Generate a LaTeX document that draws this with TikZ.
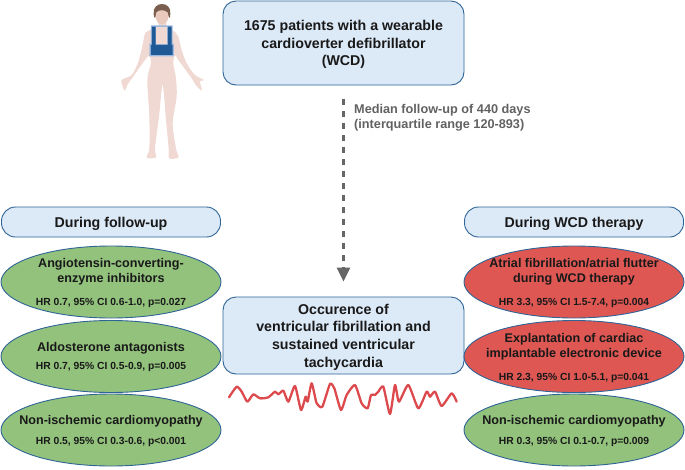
\documentclass[tikz,border=0pt]{standalone}
\usepackage{fontspec}
\setmainfont{Liberation Sans}
\usetikzlibrary{shapes.geometric,arrows.meta}
\definecolor{boxblue}{HTML}{DCE9F7}
\definecolor{edgeblue}{HTML}{2F6496}
\definecolor{okgreen}{HTML}{92C27C}
\definecolor{riskred}{HTML}{DE5753}
\definecolor{waved}{HTML}{DC4A4E}
\definecolor{skin}{HTML}{F0D9D2}
\definecolor{face}{HTML}{E8C9BC}
\definecolor{hair}{HTML}{7A5F4E}
\definecolor{vest}{HTML}{1F5A96}
\definecolor{vestedge}{HTML}{9DB8DE}
\begin{document}
\begin{tikzpicture}[
    x=1pt, y=-1pt,
    box/.style={draw=edgeblue, fill=boxblue, line width=0.9pt, rounded corners=13pt, align=center, text depth=0pt,
        font=\fontsize{14.2}{17.6}\selectfont\bfseries, text=black!90},
    head/.style={box, rounded corners=14pt, minimum width=219pt, minimum height=30pt, inner sep=0pt},
    oval/.style={ellipse, draw=edgeblue, line width=0.9pt, minimum width=220pt, minimum height=72pt, inner sep=0pt},
    title/.style={align=center, inner sep=0pt, text=black!90, font=\fontsize{12.6}{14.6}\selectfont\bfseries},
    hr/.style={inner sep=0pt, text=black!90, font=\fontsize{10.3}{11}\selectfont\bfseries}
]
\useasboundingbox (0,0) rectangle (685,469);

% Person with the vest
\begin{scope}[shift={(90,0)}, x=0.3333pt, y=-0.3333pt]
\fill[skin] plot[smooth, tension=0.5] coordinates {(205,66) (228,66) (230,84) (250,92) (265,110) (275,150) (290,190)
    (315,225) (342,240) (330,245) (336,272) (318,256) (303,232) (265,180) (255,165) (250,190) (258,235) (260,290)
    (248,370) (258,445) (265,472) (238,475) (236,445) (228,360) (218,255) (207,350) (195,445) (198,472) (170,473)
    (178,445) (178,350) (172,240) (183,190) (178,168) (165,180) (128,232) (112,255) (105,272) (99,262) (95,240)
    (125,225) (145,185) (160,125) (165,100) (185,88) (205,82)};
\fill[face] (216,46) ellipse (20 and 27);
\fill[hair] (191,42) .. controls (186,2) and (246,2) .. (241,42) .. controls (241,58) and (236,58) .. (234,38)
    .. controls (225,28) and (205,28) .. (198,38) .. controls (197,58) and (192,58) .. (191,42) -- cycle;
\fill[vestedge] (183,76) rectangle (248,135) (178,131) rectangle (252,169);
\fill[skin] (198,82) rectangle (232,131);
\fill[vest] (186,80) rectangle (197,134) (234,80) rectangle (245,134) (183,135) rectangle (248,165);
\end{scope}

% Boxes
\node[box, minimum width=241pt, minimum height=84pt] (wcd) at (343.5,43) {1675 patients with a wearable\\cardioverter defibrillator\\(WCD)};
\node[box, minimum width=241pt, minimum height=77pt] (event) at (343.5,335.5) {Occurence of\\ventricular fibrillation and\\sustained ventricular\\tachycardia};
\draw[black!60, line width=3pt, dash pattern=on 5.5pt off 6.5pt, shorten <=14pt, shorten >=15pt,
    -{Triangle[width=13pt,length=14pt]}] (wcd) -- (event);
\node[anchor=west, inner sep=0pt, align=left, text=black!62, font=\fontsize{12.7}{15}\selectfont\bfseries] (follow) at (354,117.5)
    {Median follow-up of 440 days\\(interquartile range 120-893)};

% Left column
\node[head] (lhead) at (111,222) {During follow-up};
\node[oval, fill=okgreen] (l1) at (111,282) {};
\node[oval, fill=okgreen] (l2) at (111,356.5) {};
\node[oval, fill=okgreen] (l3) at (111,430) {};
\node[title] (l1t) at (111,271.5) {Angiotensin-converting-\\enzyme inhibitors};
\node[hr] (l1h) at (111,303) {HR 0.7, 95\% CI 0.6-1.0, p=0.027};
\node[title] (l2t) at (111,348.5) {Aldosterone antagonists};
\node[hr] (l2h) at (111,367) {HR 0.7, 95\% CI 0.5-0.9, p=0.005};
\node[title] (l3t) at (111,421.5) {Non-ischemic cardiomyopathy};
\node[hr] (l3h) at (111,442) {HR 0.5, 95\% CI 0.3-0.6, p<0.001};

% Right column
\node[head] (rhead) at (574,222) {During WCD therapy};
\node[oval, fill=riskred] (r1) at (574,282) {};
\node[oval, fill=riskred] (r2) at (574,356.5) {};
\node[oval, fill=okgreen] (r3) at (574,430) {};
\node[title] (r1t) at (574,271.5) {Atrial fibrillation/atrial flutter\\during WCD therapy};
\node[hr] (r1h) at (574,303) {HR 3.3, 95\% CI 1.5-7.4, p=0.004};
\node[title] (r2t) at (574,346.5) {Explantation of cardiac\\implantable electronic device};
\node[hr] (r2h) at (574,378) {HR 2.3, 95\% CI 1.0-5.1, p=0.041};
\node[title] (r3t) at (574,421.5) {Non-ischemic cardiomyopathy};
\node[hr] (r3h) at (574,442) {HR 0.3, 95\% CI 0.1-0.7, p=0.009};

% Rhythm strip
\begin{scope}[shift={(215,260)}, x=0.3333pt, y=-0.3333pt]
\draw[waved, line width=2.3pt, line join=round, line cap=round] plot[smooth, tension=0.35] coordinates {(42,412) (65,380) (80,395) (97,425)
    (115,403) (135,415) (160,412) (180,395) (190,403) (205,392) (220,425) (240,378) (258,450) (272,410) (278,425)
    (290,370) (305,430) (322,440) (345,372) (358,385) (378,450) (395,405) (420,375) (440,430) (458,445) (468,405)
    (480,405) (490,395) (505,380) (525,462) (540,375) (552,425) (580,375) (610,445) (635,395) (645,410) (660,395)
    (680,438) (710,400) (725,425)};
\end{scope}
\end{tikzpicture}
\end{document}
